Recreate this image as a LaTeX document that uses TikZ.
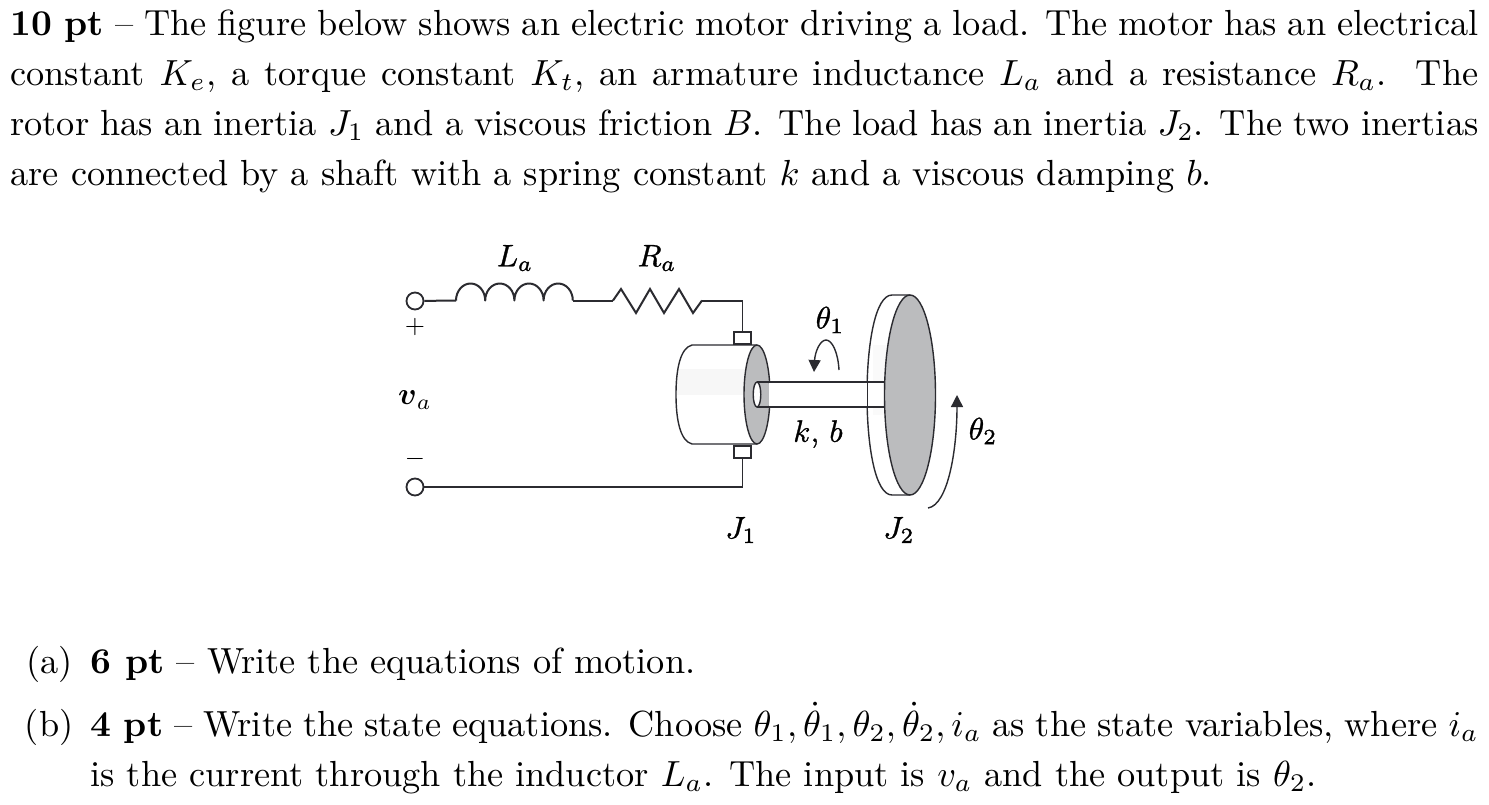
\documentclass[tikz,border=0pt]{standalone}
\usepackage{amsmath}
\usetikzlibrary{arrows.meta}
\newcommand{\fullline}[2]{\makebox[#1pt][s]{#2}}
\newcommand{\heavy}[1]{\special{pdf:code 2 Tr 0.1 w}#1\special{pdf:code 0 Tr 1 w}}
\definecolor{ink}{HTML}{2B2B30}
\definecolor{fillgray}{HTML}{BBBCBE}
\tikzset{
  body/.style={anchor=base west,inner sep=0pt,outer sep=0pt,scale=1.815,text=black},
  wire/.style={draw=ink,line width=1pt},
  thin wire/.style={draw=ink,line width=0.7pt},
  terminal/.style={circle,draw=ink,line width=0.9pt,fill=white,minimum size=8.5pt,inner sep=0pt},
  lab/.style={inner sep=0pt,outer sep=0pt,text=black,scale=1.55},
  sign/.style={inner sep=0pt,outer sep=0pt,text=black,scale=1.3},
  brush/.style={draw=ink,line width=0.7pt,fill=white,minimum width=8.5pt,minimum height=6pt,inner sep=0pt},
  rot/.style={draw=ink,line width=0.7pt,-{Triangle[length=6pt,width=6pt]}}
}
\begin{document}
\begin{tikzpicture}[x=0.5pt,y=-0.5pt]
\useasboundingbox (0,0) rectangle (1489,804);
\fill[white] (0,0) rectangle (1489,804);
% question text
\node[body] (l1) at (10.5,35.5) {\fullline{404.4}{\textbf{10 pt} -- The figure below shows an electric motor driving a load. The motor has an electrical}};
\node[body] (l2) at (10.5,85.5) {\fullline{404.4}{constant $K_e$, a torque constant $K_t$, an armature inductance $L_a$ and a resistance $R_a$.\ \ The}};
\node[body] (l3) at (10.5,135.5) {\fullline{404.4}{rotor has an inertia $J_1$ and a viscous friction $B$. The load has an inertia $J_2$. The two inertias}};
\node[body] (l4) at (10.5,185.5) {are connected by a shaft with a spring constant $k$ and a viscous damping $b$.};
\node[body] (pa) at (26,673.5) {(a)};
\node[body] (ta) at (90.5,673.5) {\textbf{6 pt} -- Write the equations of motion.};
\node[body] (pb) at (25,736.5) {(b)};
\node[body] (tb) at (90.5,736.5) {\fullline{382.4}{\textbf{4 pt} -- Write the state equations. Choose $\theta_1,\dot\theta_1,\theta_2,\dot\theta_2,i_a$ as the state variables, where $i_a$}};
\node[body] (tc) at (90.5,786.5) {is the current through the inductor $L_a$. The input is $v_a$ and the output is $\theta_2$.};
% motor body
\fill[black!3] (677,369) rectangle (745,395);
\draw[thin wire] (757,345) -- (692,345) .. controls (680,348) and (676,370) .. (676,394.5) .. controls (676,419) and (680,441) .. (692,444) -- (757,444);
% brushes
\node[brush] (bt) at (742.5,338) {};
\node[brush] (bb) at (742.5,452) {};
% motor face
\draw[thin wire,fill=fillgray] (757,394.5) ellipse [x radius=13,y radius=49.5];
% flywheel
\draw[thin wire,fill=white] (910,295) -- (892,295) .. controls (875,295) and (867,345) .. (867,395) .. controls (867,445) and (875,495) .. (892,495) -- (910,495);
\fill[black!2] (873,345) rectangle (887,415);
% shaft
\fill[white] (769,382) rectangle (890,407);
\draw[thin wire] (757,382) -- (888,382);
\draw[thin wire] (757,407) -- (888,407);
\draw[thin wire,fill=white] (757,394.5) ellipse [x radius=3.8,y radius=12.5];
\draw[thin wire] (867.5,382) -- (867.5,407);
\draw[thin wire,fill=fillgray] (910,395) ellipse [x radius=25.5,y radius=100];
% terminals
\node[terminal] (tp) at (415,301) {};
\node[terminal] (tm) at (415,487) {};
% inductor and resistor
\coordinate (lstart) at (456,300.5);
\coordinate (lend) at (573,300.5);
\coordinate (rstart) at (613,300.5);
\coordinate (rend) at (702,300.5);
\coordinate (corner) at (742.5,300.5);
\coordinate (bcorner) at (742.5,487);
\draw[wire] (tp) -- (lstart);
\draw[wire,line join=round] (lstart) arc[start angle=180,end angle=360,x radius=14.6,y radius=17] arc[start angle=180,end angle=360,x radius=14.6,y radius=17] arc[start angle=180,end angle=360,x radius=14.6,y radius=17] arc[start angle=180,end angle=360,x radius=14.6,y radius=17];
\draw[wire] (lend) -- (rstart);
\draw[wire,line join=miter] (rstart) -- (621,289) -- (636,313) -- (650,289) -- (664,313) -- (679,289) -- (693,313) -- (rend);
\draw[wire] (rend) -- (corner);
\draw[thin wire] (corner) -- (bt.north);
\draw[wire] (tm) -- (bcorner);
\draw[thin wire] (bcorner) -- (bb.south);
% rotation arrows
\draw[rot] (839,370) .. controls (838,352) and (832,340) .. (826,340) .. controls (820,340) and (815,352) .. (814,372);
\draw[rot] (928,508) .. controls (948,505) and (957,450) .. (957,395);
% labels
\node[lab] (nla) at (515,258) {\heavy{$L_a$}};
\node[lab] (nra) at (657,258) {\heavy{$R_a$}};
\node[sign] (plus) at (415,327) {$+$};
\node[lab] (nva) at (415,400) {$\boldsymbol{v}_a$};
\node[sign] (minus) at (415,459) {$-$};
\node[lab] (nt1) at (830,320) {\heavy{$\theta_1$}};
\node[lab] (nkb) at (818,434) {\heavy{$k$, $b$}};
\node[lab] (nt2) at (983,431) {\heavy{$\theta_2$}};
\node[lab] (nj1) at (741,530) {\heavy{$J_1$}};
\node[lab] (nj2) at (899,530) {\heavy{$J_2$}};
\end{tikzpicture}
\end{document}
